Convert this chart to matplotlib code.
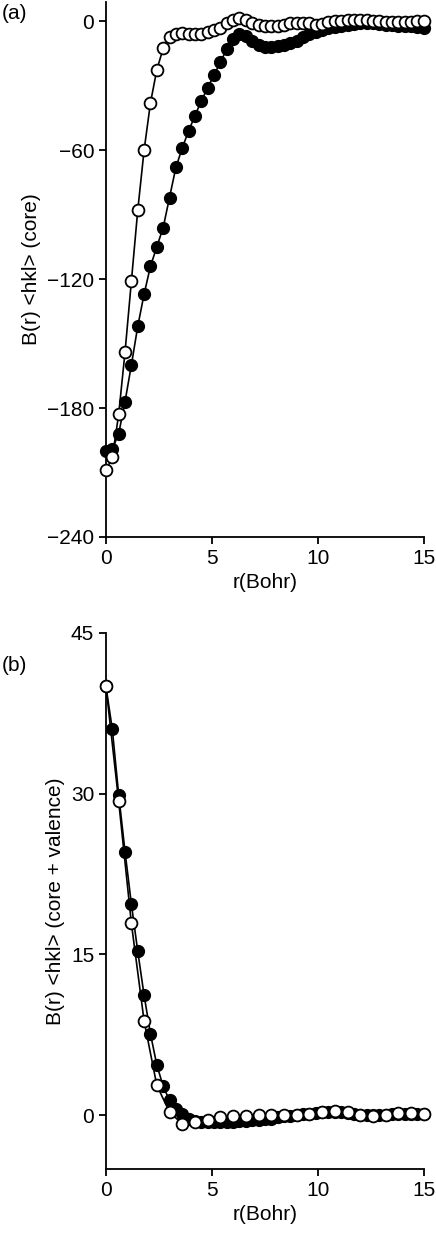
import numpy as np
import matplotlib
matplotlib.use("Agg")
import matplotlib.pyplot as plt

plt.rcParams['font.family'] = ['Liberation Sans', 'DejaVu Sans']

r_a = [round(0.3 * i, 1) for i in range(51)]
a_filled = [-200, -199, -192, -177, -160, -142, -127, -114, -105, -96, -82, -68, -59, -51, -44, -37, -31,
            -25, -19, -13, -8, -6, -7, -9, -11, -12, -12, -11.5, -11, -10, -9, -7.5, -6, -5, -4, -3,
            -2.5, -2, -1.5, -1.2, -1, -1, -1, -1.2, -1.5, -1.8, -2, -2.2, -2.3, -2.5, -3]
a_open = [-209, -203, -183, -154, -121, -88, -60, -38, -22.6, -12.6, -7.5, -5.7, -5.5, -6, -6, -6, -5,
          -4, -3, -1, 0.5, 1.5, 0.5, -1, -1.5, -2, -2, -2, -1.5, -1, -1, -1, -1, -1.5, -1.2, -0.5,
          0, 0.3, 0.5, 0.5, 0.5, 0.5, 0.3, 0, -0.3, -0.5, -0.5, -0.5, -0.3, 0, 0]

r_b_filled = [round(0.3 * i, 1) for i in range(51)]
b_filled = [40, 36, 29.9, 24.6, 19.7, 15.3, 11.2, 7.6, 4.7, 2.7, 1.4, 0.6, 0.1, -0.3, -0.5, -0.6,
            -0.6, -0.6, -0.6, -0.6, -0.6, -0.5, -0.5, -0.4, -0.4, -0.3, -0.3, -0.2, -0.1, -0.1, 0.0,
            0.1, 0.1, 0.2, 0.3, 0.3, 0.3, 0.3, 0.2, 0.1, 0.0, 0.0, 0.0, 0.0, 0.0, 0.1, 0.1, 0.1,
            0.1, 0.1, 0.1]
r_b_open = [round(0.6 * i, 1) for i in range(26)]
b_open = [40, 29.3, 17.9, 8.8, 2.8, 0.3, -0.8, -0.6, -0.4, -0.2, -0.1, -0.1, 0.0, 0.0, 0.0, 0.0,
          0.1, 0.3, 0.4, 0.3, 0.0, -0.1, 0.0, 0.2, 0.2, 0.1]

fig = plt.figure(figsize=(4.36, 12.47), dpi=100)
ax1 = fig.add_axes([0.243, 0.5694, 0.729, 0.429])
ax2 = fig.add_axes([0.243, 0.0626, 0.729, 0.430])

fs = 15

def style(ax):
    for s in ['top', 'right']:
        ax.spines[s].set_visible(False)
    for s in ['left', 'bottom']:
        ax.spines[s].set_linewidth(1.3)
    ax.tick_params(direction='out', length=5, width=1.3, labelsize=fs)
    ax.set_xlim(0, 15)
    ax.set_xticks([0, 5, 10, 15])
    ax.set_xlabel('r(Bohr)', fontsize=fs)

ms = 8.5
ax1.plot(r_a, a_filled, '-o', color='black', mfc='black', mec='black', ms=ms, lw=1.2, clip_on=False, zorder=3)
ax1.plot(r_a, a_open, '-o', color='black', mfc='white', mec='black', ms=ms, mew=1.3, lw=1.2, clip_on=False, zorder=4)
ax1.set_ylim(-240, 9)
ax1.set_yticks([-240, -180, -120, -60, 0])
ax1.set_yticklabels(['\u2212240', '\u2212180', '\u2212120', '\u221260', '0'])
ax1.set_ylabel('B(r) <hkl> (core)', fontsize=fs)
style(ax1)

ax2.plot(r_b_filled, b_filled, '-o', color='black', mfc='black', mec='black', ms=ms, lw=1.2, clip_on=False, zorder=3)
ax2.plot(r_b_open, b_open, '-o', color='black', mfc='white', mec='black', ms=ms, mew=1.3, lw=1.2, clip_on=False, zorder=4)
ax2.set_ylim(-5, 45)
ax2.set_yticks([0, 15, 30, 45])
ax2.set_ylabel('B(r) <hkl> (core + valence)', fontsize=fs)
style(ax2)

fig.text(0.005, 0.985, '(a)', fontsize=fs)
fig.text(0.005, 0.462, '(b)', fontsize=fs)

fig.savefig('out.png', dpi=100)
